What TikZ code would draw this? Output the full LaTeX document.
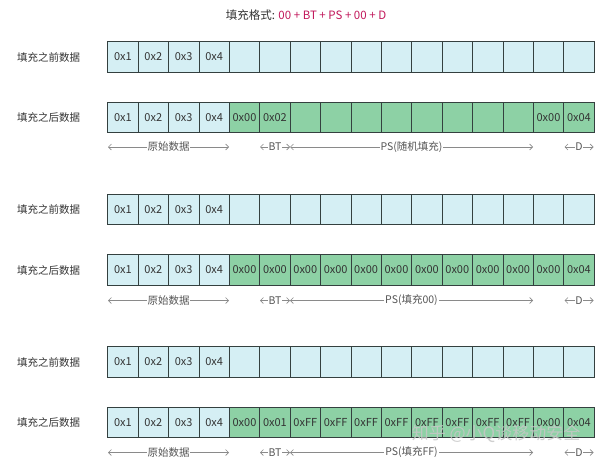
\documentclass[tikz,border=0pt]{standalone}
\usepackage{fontspec}
\newfontfamily\cjk{Noto Sans CJK SC}
\usetikzlibrary{arrows.meta}
\definecolor{cellblue}{HTML}{D5EFF4}
\definecolor{cellgreen}{HTML}{8DD1A5}
\definecolor{cellline}{HTML}{34403F}
\definecolor{titlered}{HTML}{C2185B}
\definecolor{txtc}{HTML}{333333}
\definecolor{arrc}{HTML}{8A8A8A}
\definecolor{spantxt}{HTML}{555555}
\tikzset{
  cell/.style={draw=cellline, line width=0.8pt, minimum width=30.4pt, minimum height=30.5pt,
    inner sep=0pt, text=txtc, font=\cjk\fontsize{11}{13}\selectfont, anchor=center},
  rowlabel/.style={font=\cjk\fontsize{10.5}{12}\selectfont, text=txtc, inner sep=0pt},
  span/.style={draw=arrc, line width=0.6pt,
    {Straight Barb[length=3pt,width=6pt]}-{Straight Barb[length=3pt,width=6pt]}},
  spanlabel/.style={fill=white, inner sep=0.8pt, font=\cjk\fontsize{10.5}{12}\selectfont, text=spantxt},
}
\begin{document}
\begin{tikzpicture}[x=1pt,y=-1pt]
\fill[white] (0,0) rectangle (600,463);
\useasboundingbox (0,0) rectangle (600,463);

% title
\node[font=\cjk\fontsize{11.5}{13}\selectfont, text=txtc, inner sep=0pt] (title) at (306,15)
  {填充格式: \textcolor{titlered}{00 + BT + PS + 00 + D}};

% row labels
\foreach \y [count=\i] in {57,209.5,362}{
  \node[rowlabel] (lb\i) at (48.5,\y) {填充之前数据};
}
\foreach \y [count=\i] in {117.5,270,422.5}{
  \node[rowlabel] (la\i) at (48.5,\y) {填充之后数据};
}

% "before" rows
\foreach \y/\r in {57/1,209.5/3,362/5}{
  \foreach \c in {1,...,16}{
    \node[cell, fill=cellblue] (r\r c\c) at ({107.7+30.4*(\c-0.5)},\y) {\ifnum\c<5 0x\c\fi};
  }
}

% "after" rows
\foreach \t [count=\c] in {0x1,0x2,0x3,0x4,0x00,0x02,{},{},{},{},{},{},{},{},0x00,0x04}{
  \ifnum\c<5 \def\fc{cellblue}\else\def\fc{cellgreen}\fi
  \node[cell, fill=\fc] (r2c\c) at ({107.7+30.4*(\c-0.5)},117.5) {\t};
}
\foreach \t [count=\c] in {0x1,0x2,0x3,0x4,0x00,0x00,0x00,0x00,0x00,0x00,0x00,0x00,0x00,0x00,0x00,0x04}{
  \ifnum\c<5 \def\fc{cellblue}\else\def\fc{cellgreen}\fi
  \node[cell, fill=\fc] (r4c\c) at ({107.7+30.4*(\c-0.5)},270) {\t};
}
\foreach \t [count=\c] in {0x1,0x2,0x3,0x4,0x00,0x01,0xFF,0xFF,0xFF,0xFF,0xFF,0xFF,0xFF,0xFF,0x00,0x04}{
  \ifnum\c<5 \def\fc{cellblue}\else\def\fc{cellgreen}\fi
  \node[cell, fill=\fc] (r6c\c) at ({107.7+30.4*(\c-0.5)},422.5) {\t};
}

% span arrows
\foreach \y/\k/\ps in {147/1/随机填充,300.5/2/填充00,452.5/3/填充FF}{
  \coordinate (o\k a) at (108,\y);
  \coordinate (o\k b) at (229,\y);
  \coordinate (b\k a) at (260,\y);
  \coordinate (b\k b) at (290,\y);
  \coordinate (p\k a) at (290,\y);
  \coordinate (p\k b) at (533,\y);
  \coordinate (d\k a) at (564.5,\y);
  \coordinate (d\k b) at (593.5,\y);
  \draw[span] (o\k a) -- node[spanlabel] (ol\k) {原始数据} (o\k b);
  \draw[span] (b\k a) -- node[spanlabel] (bl\k) {BT} (b\k b);
  \draw[span] (p\k a) -- node[spanlabel] (pl\k) {PS(\ps)} (p\k b);
  \draw[span] (d\k a) -- node[spanlabel] (dl\k) {D} (d\k b);
}

% watermark
\node[font=\cjk\fontsize{17}{20}\selectfont, text=white!78!black, opacity=0.85, inner sep=0pt]
  (wm) at (496,434) {知乎 @小Q谈移动安全};
\end{tikzpicture}
\end{document}
